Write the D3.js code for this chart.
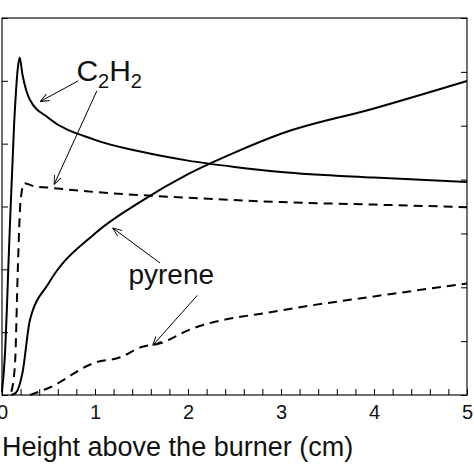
<!DOCTYPE html>
<html><head><meta charset="utf-8">
<script src="https://cdn.jsdelivr.net/npm/d3@7"></script>
<style>body{margin:0;background:#fff}</style>
</head><body><div id="chart"></div>
<script>
// height above burner (cm) and concentrations (left axis for C2H2, right axis for pyrene)
const c2h2SolidX = [0, 0.03, 0.08, 0.13, 0.17, 0.19, 0.22, 0.26, 0.3, 0.5, 1, 1.5, 2, 2.5, 3, 4, 5];
const c2h2SolidY = [0.05, 0.6, 2.5, 4.3, 5.2, 5.37, 5.1, 4.85, 4.7, 4.41, 4.06, 3.87, 3.73, 3.63, 3.55, 3.46, 3.39];
const c2h2DashX = [0.1, 0.14, 0.17, 0.2, 0.24, 0.35, 0.5, 1, 2, 3, 4, 5];
const c2h2DashY = [0.05, 0.5, 2.0, 3.1, 3.37, 3.32, 3.3, 3.23, 3.14, 3.07, 3.03, 2.99];
const pyrSolidX = [0.1, 0.15, 0.22, 0.3, 0.5, 1, 1.5, 2, 2.5, 3, 4, 5];
const pyrSolidY = [0, 0.04, 0.41, 1.39, 2.07, 3.0, 3.6, 4.1, 4.5, 4.85, 5.32, 5.83];
const pyrDashX = [0.3, 0.5, 1, 1.27, 1.5, 1.7, 2, 3, 4, 5];
const pyrDashY = [0, 0.13, 0.6, 0.7, 0.89, 0.96, 1.2, 1.57, 1.83, 2.07];
const xTicks = [0, 1, 2, 3, 4, 5];

const W = 474, H = 474;
const m = {left: 2, right: 467, top: 18, bottom: 395};

const svg = d3.select("#chart").append("svg").attr("width", W).attr("height", H);

const x = d3.scaleLinear().domain([0, 5]).range([m.left, m.right]);
const yL = d3.scaleLinear().domain([0, 6]).range([m.bottom, m.top]);
const yR = d3.scaleLinear().domain([0, 7]).range([m.bottom, m.top]);

// frame
svg.append("rect").attr("x", m.left).attr("y", m.top).attr("width", m.right - m.left).attr("height", m.bottom - m.top)
    .attr("fill", "none").attr("stroke", "#222").attr("stroke-width", 1.3);

// ticks (inward)
svg.append("g").attr("transform", `translate(0,${m.bottom})`)
    .call(d3.axisTop(x).tickValues(d3.range(0, 5.01, 0.2)).tickSize(6).tickFormat(""))
    .call(g => g.select(".domain").remove());
svg.append("g").attr("transform", `translate(0,${m.bottom})`)
    .call(d3.axisBottom(x).tickValues(xTicks).tickSize(0).tickPadding(10).tickFormat(d3.format("d")))
    .call(g => g.select(".domain").remove())
    .selectAll("text").attr("font-family", "Liberation Sans, Arial").attr("font-size", 20).attr("fill", "#111");
svg.append("g").attr("transform", `translate(${m.left},0)`)
    .call(d3.axisRight(yL).ticks(6).tickSize(6).tickFormat(""))
    .call(g => g.select(".domain").remove());
svg.append("g").attr("transform", `translate(${m.right},0)`)
    .call(d3.axisLeft(yR).ticks(7).tickSize(6).tickFormat(""))
    .call(g => g.select(".domain").remove());

const line = (xs, ys, yScale) => d3.line().curve(d3.curveMonotoneX)
    .x((d, i) => x(xs[i])).y((d, i) => yScale(ys[i]))(xs);

const series = [
    [c2h2SolidX, c2h2SolidY, yL, null],
    [c2h2DashX, c2h2DashY, yL, "9,6"],
    [pyrSolidX, pyrSolidY, yR, null],
    [pyrDashX, pyrDashY, yR, "9,6"]
];
series.forEach(s => {
    svg.append("path").attr("d", line(s[0], s[1], s[2]))
        .attr("fill", "none").attr("stroke", "#000").attr("stroke-width", 2)
        .attr("stroke-dasharray", s[3]);
});

// arrows
svg.append("defs").append("marker").attr("id", "arr").attr("viewBox", "0 0 10 10")
    .attr("refX", 10).attr("refY", 5).attr("markerWidth", 9).attr("markerHeight", 9)
    .attr("orient", "auto").attr("markerUnits", "userSpaceOnUse")
    .append("path").attr("d", "M0,1 L10,5 L0,9").attr("fill", "none").attr("stroke", "#000").attr("stroke-width", 1);

const arrows = [
    [0.82, 5.0, 0.41, 4.67, yL],
    [1.02, 4.84, 0.56, 3.35, yL],
    [1.7, 2.45, 1.19, 3.1, yR],
    [2.1, 1.85, 1.62, 0.92, yR]
];
arrows.forEach(a => {
    svg.append("line").attr("x1", x(a[0])).attr("y1", a[4](a[1])).attr("x2", x(a[2])).attr("y2", a[4](a[3]))
        .attr("stroke", "#000").attr("stroke-width", 1).attr("marker-end", "url(#arr)");
});

// labels
const c2 = svg.append("text").attr("x", x(0.8)).attr("y", yL(5.0)).attr("font-family", "Liberation Sans, Arial")
    .attr("font-size", 30).attr("fill", "#111");
c2.append("tspan").text("C");
c2.append("tspan").attr("font-size", 20).attr("dy", 7).text("2");
c2.append("tspan").attr("dy", -7).text("H");
c2.append("tspan").attr("font-size", 20).attr("dy", 7).text("2");

svg.append("text").attr("x", x(1.36)).attr("y", yR(2.07)).attr("font-family", "Liberation Sans, Arial")
    .attr("font-size", 28).attr("fill", "#111").text("pyrene");

svg.append("text").attr("x", 2).attr("y", 456).attr("font-family", "Liberation Sans, Arial")
    .attr("font-size", 27).attr("fill", "#111").text("Height above the burner (cm)");
</script>
</body></html>
